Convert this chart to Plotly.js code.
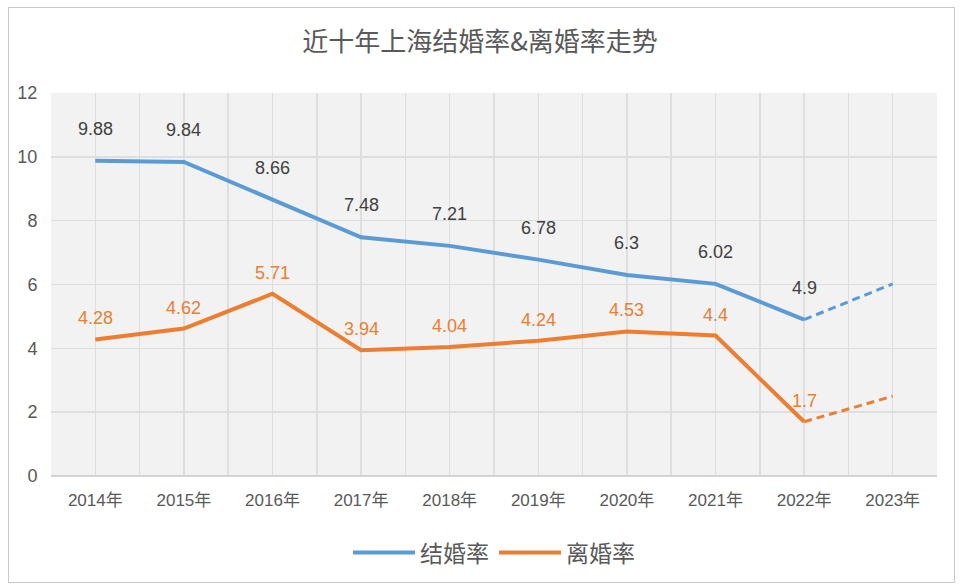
<!DOCTYPE html>
<html>
<head>
<meta charset="utf-8">
<script src="https://cdn.plot.ly/plotly-3.0.1.min.js"></script>
<style>
html,body{margin:0;padding:0;background:#fff;}
#wrap{position:relative;width:960px;height:588px;}
#chart{width:960px;height:588px;}
#frame{position:absolute;left:8px;top:7px;width:945px;height:574px;border:1px solid #c9c9c9;pointer-events:none;}
</style>
</head>
<body>
<div id="wrap"><div id="chart"></div><div id="frame"></div></div>
<script>
// ---- data ----
const years = ["2014年","2015年","2016年","2017年","2018年","2019年","2020年","2021年","2022年","2023年"];
const marriageRate = [9.88, 9.84, 8.66, 7.48, 7.21, 6.78, 6.3, 6.02, 4.9];
const divorceRate  = [4.28, 4.62, 5.71, 3.94, 4.04, 4.24, 4.53, 4.4, 1.7];
const marriage2023 = 6.02;
const divorce2023  = 2.5;
const seriesNames = ["结婚率", "离婚率"];
const titleText = "近十年上海结婚率&离婚率走势";

const BLUE = "#5b9bd5", ORANGE = "#ed7d31";
const FONT = "Liberation Sans, Arial, Noto Sans CJK SC, sans-serif";
const idx = marriageRate.map((_, i) => i);
const last = marriageRate.length - 1;

const traces = [
  {x: idx, y: marriageRate, name: seriesNames[0], mode: "lines", type: "scatter",
   line: {color: BLUE, width: 4}},
  {x: idx, y: divorceRate, name: seriesNames[1], mode: "lines", type: "scatter",
   line: {color: ORANGE, width: 4}},
  {x: [last, last + 1], y: [marriageRate[last], marriage2023], mode: "lines", showlegend: false,
   line: {color: BLUE, width: 3, dash: "8px,5px"}},
  {x: [last, last + 1], y: [divorceRate[last], divorce2023], mode: "lines", showlegend: false,
   line: {color: ORANGE, width: 3, dash: "8px,5px"}}
];

const annotations = [];
marriageRate.forEach((v, i) => annotations.push({
  x: i, y: v, text: String(v), showarrow: false, yshift: 32,
  font: {family: FONT, size: 18, color: "#404040"}
}));
divorceRate.forEach((v, i) => annotations.push({
  x: i, y: v, text: String(v), showarrow: false, yshift: 21,
  font: {family: FONT, size: 18, color: ORANGE}
}));

const layout = {
  width: 960, height: 588,
  margin: {l: 51, r: 23, t: 93, b: 112},
  paper_bgcolor: "#ffffff",
  plot_bgcolor: "#f2f2f2",
  font: {family: FONT, color: "#595959"},
  title: {text: titleText, x: 0.5, xanchor: "center", y: 0.928, yanchor: "middle",
          font: {family: "Noto Sans CJK SC, sans-serif", size: 26, color: "#595959"}},
  xaxis: {
    range: [-0.5, 9.5], tickmode: "array", tickvals: years.map((_, i) => i), ticktext: years,
    showgrid: true, gridcolor: "#dedede", gridwidth: 1.5,
    minor: {tick0: 0.5, dtick: 1, showgrid: true, gridcolor: "#dedede", gridwidth: 1.5},
    zeroline: false, showline: false,
    ticks: "outside", ticklen: 9, tickcolor: "rgba(0,0,0,0)",
    tickfont: {family: FONT, size: 17, color: "#595959"}, fixedrange: true
  },
  yaxis: {
    range: [0, 12], dtick: 2, showgrid: true, gridcolor: "#dedede", gridwidth: 1.5,
    zeroline: true, zerolinecolor: "#d4d4d4", zerolinewidth: 2,
    ticks: "outside", ticklen: 9, tickcolor: "rgba(0,0,0,0)",
    tickfont: {family: FONT, size: 18, color: "#595959"}, fixedrange: true
  },
  legend: {
    orientation: "h", x: 0.5, xanchor: "center", y: -0.2, yanchor: "middle",
    font: {family: "Noto Sans CJK SC, sans-serif", size: 23, color: "#595959"},
    itemwidth: 62, traceorder: "normal"
  },
  annotations: annotations,
  showlegend: true
};

Plotly.newPlot("chart", traces, layout, {displayModeBar: false, staticPlot: true});
</script>
</body>
</html>
